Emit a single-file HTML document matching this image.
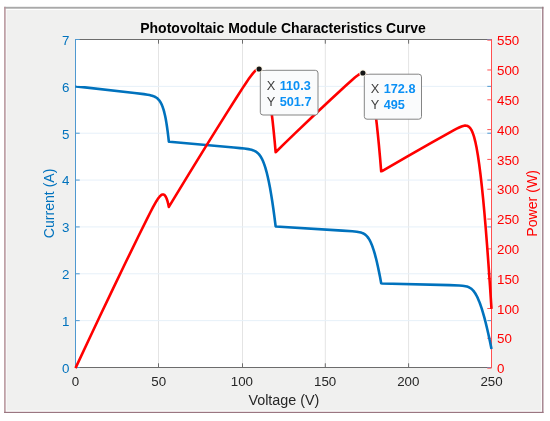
<!DOCTYPE html>
<html lang="en">
<head>
<meta charset="utf-8">
<title>Photovoltaic Module Characteristics Curve</title>
<style>
html,body{margin:0;padding:0;background:#fff;}
body{width:550px;height:421px;overflow:hidden;}
svg{display:block;font-family:"Liberation Sans",Arial,Helvetica,sans-serif;}
.tk{font-size:13.33px;}
.lb{font-size:14.1px;}
.tt{font-size:14px;font-weight:bold;}
.dt{font-size:12.8px;}
.dv{font-weight:bold;fill:#0a90f5;font-size:12.7px;}
</style>
</head>
<body>
<svg width="550" height="421" viewBox="0 0 550 421">
<rect x="0" y="0" width="550" height="421" fill="#ffffff"/>
<!-- figure window frame -->
<rect x="4.2" y="7" width="539.2" height="406" fill="#ffffff"/>
<rect x="6.5" y="10" width="534.7" height="400.6" fill="#f0f0ef"/>
<rect x="4.2" y="6.8" width="539.3" height="1.9" fill="#a9a9a9"/>
<rect x="4.1" y="6.8" width="1.6" height="406.2" fill="#b8989e"/>
<rect x="542.15" y="6.8" width="1.3" height="406.2" fill="#9a7681"/>
<rect x="4.1" y="411.8" width="539.4" height="1.2" fill="#9a7681"/>
<!-- axes background -->

<rect x="75.5" y="39.5" width="416.0" height="328.0" fill="#ffffff"/>
<g stroke="#e4e4e4" stroke-width="1">
<line x1="158.50" y1="39.5" x2="158.50" y2="367.5"/>
<line x1="242.50" y1="39.5" x2="242.50" y2="367.5"/>
<line x1="325.30" y1="39.5" x2="325.30" y2="367.5"/>
<line x1="408.60" y1="39.5" x2="408.60" y2="367.5"/>
</g>
<g stroke="#e6f0f9" stroke-width="1">
<line x1="75.5" y1="320.64" x2="491.5" y2="320.64"/>
<line x1="75.5" y1="273.79" x2="491.5" y2="273.79"/>
<line x1="75.5" y1="226.93" x2="491.5" y2="226.93"/>
<line x1="75.5" y1="180.07" x2="491.5" y2="180.07"/>
<line x1="75.5" y1="133.21" x2="491.5" y2="133.21"/>
<line x1="75.5" y1="86.36" x2="491.5" y2="86.36"/>
</g>
<g stroke-width="1" fill="none">
<path d="M75.5,39.5 H491.5" stroke="#6c6c6c"/>
<path d="M75.5,367.5 H491.5" stroke="#6c6c6c"/>
<path d="M75.50,367.5 v-4.2 M75.50,39.5 v4.2 M158.50,367.5 v-4.2 M158.50,39.5 v4.2 M242.50,367.5 v-4.2 M242.50,39.5 v4.2 M325.30,367.5 v-4.2 M325.30,39.5 v4.2 M408.60,367.5 v-4.2 M408.60,39.5 v4.2 M491.50,367.5 v-4.2 M491.50,39.5 v4.2 " stroke="#6c6c6c"/>
<path d="M75.5,367.50 h4.2 M491.5,367.50 h-4.2 M75.5,320.64 h4.2 M491.5,320.64 h-4.2 M75.5,273.79 h4.2 M491.5,273.79 h-4.2 M75.5,226.93 h4.2 M491.5,226.93 h-4.2 M75.5,180.07 h4.2 M491.5,180.07 h-4.2 M75.5,133.21 h4.2 M491.5,133.21 h-4.2 M75.5,86.36 h4.2 M491.5,86.36 h-4.2 M75.5,39.50 h4.2 M491.5,39.50 h-4.2 " stroke="#4f99d0"/>
<path d="M491.5,368.15 h-4.2 M491.5,338.33 h-4.2 M491.5,308.51 h-4.2 M491.5,278.70 h-4.2 M491.5,248.88 h-4.2 M491.5,219.06 h-4.2 M491.5,189.24 h-4.2 M491.5,159.42 h-4.2 M491.5,129.60 h-4.2 M491.5,99.79 h-4.2 M491.5,69.97 h-4.2 M491.5,40.15 h-4.2 " stroke="#ff5050"/>
<path d="M75.5,39.0 V368.0" stroke="#4f99d0"/>
<path d="M491.5,39.0 V368.0" stroke="#ff5050"/>
</g>
<g fill="none" stroke-linejoin="round" stroke-linecap="butt">
<path d="M75.50,86.25 L76.08,86.36 L134.50,92.99 L143.90,94.14 L147.67,94.71 L149.48,95.05 L150.97,95.40 L152.20,95.74 L153.53,96.20 L154.60,96.65 L155.68,97.23 L156.88,98.03 L158.07,99.06 L159.20,100.31 L160.17,101.69 L161.08,103.29 L161.94,105.12 L162.78,107.29 L163.55,109.69 L164.30,112.44 L165.03,115.53 L165.70,118.84 L166.36,122.62 L167.00,126.74 L167.64,131.31 L168.26,136.34 L168.85,141.72 L169.60,141.83 L233.89,147.55 L240.01,148.12 L244.33,148.58 L248.42,149.15 L250.19,149.50 L251.59,149.84 L252.72,150.18 L253.93,150.64 L254.91,151.10 L255.91,151.67 L256.75,152.24 L257.60,152.93 L258.32,153.61 L259.06,154.42 L259.79,155.33 L260.43,156.25 L261.07,157.27 L261.71,158.42 L262.96,161.05 L264.17,164.14 L265.35,167.68 L266.52,171.80 L267.68,176.49 L268.82,181.75 L269.96,187.58 L271.10,194.10 L272.24,201.20 L273.37,208.97 L274.50,217.32 L275.64,226.36 L275.88,226.47 L342.33,230.59 L352.36,231.28 L356.81,231.73 L359.49,232.19 L360.86,232.53 L361.92,232.88 L362.78,233.22 L363.71,233.68 L364.48,234.14 L365.13,234.59 L366.34,235.62 L367.49,236.88 L368.58,238.37 L369.67,240.20 L370.71,242.26 L371.74,244.66 L372.72,247.29 L373.75,250.38 L374.80,253.92 L375.84,257.81 L376.87,262.04 L377.93,266.73 L379.01,271.88 L380.09,277.37 L381.19,283.32 L382.03,283.43 L449.50,285.15 L459.16,285.49 L462.24,285.72 L464.11,285.95 L465.42,286.18 L466.83,286.52 L467.89,286.86 L468.98,287.32 L469.85,287.78 L470.58,288.24 L471.36,288.81 L472.03,289.38 L472.73,290.07 L473.45,290.87 L474.09,291.67 L475.34,293.50 L476.64,295.79 L477.91,298.42 L479.16,301.39 L480.44,304.82 L481.75,308.71 L483.08,313.06 L484.31,317.43 L485.61,322.42 L486.97,328.01 L488.41,334.31 L489.92,341.27 L491.50,348.89" stroke="#0072bd" stroke-width="2.6"/>
<path d="M75.50,367.50 L87.98,340.79 L100.46,314.36 L112.94,288.19 L125.48,262.16 L138.42,235.62 L147.67,216.92 L150.51,211.33 L152.90,206.75 L154.84,203.22 L156.40,200.54 L157.58,198.68 L158.72,197.07 L159.71,195.85 L160.65,194.91 L161.53,194.25 L162.35,193.88 L162.74,193.80 L163.13,193.79 L163.48,193.85 L163.85,193.98 L164.22,194.19 L164.56,194.46 L165.24,195.25 L165.89,196.31 L166.51,197.67 L167.12,199.34 L167.71,201.32 L168.28,203.62 L168.85,206.29 L188.65,173.66 L206.96,143.94 L216.94,127.92 L226.51,112.70 L236.08,97.61 L242.73,87.26 L246.16,82.05 L248.42,78.71 L250.70,75.53 L252.72,72.94 L254.44,71.01 L255.12,70.35 L255.91,69.68 L256.59,69.19 L257.33,68.77 L257.97,68.51 L258.54,68.38 L259.25,68.35 L259.87,68.47 L260.50,68.73 L261.14,69.17 L261.71,69.72 L262.28,70.43 L262.86,71.32 L263.44,72.38 L264.01,73.63 L264.53,74.96 L265.59,78.15 L266.64,82.07 L267.65,86.61 L268.68,92.03 L269.68,98.08 L270.69,105.04 L271.68,112.64 L272.67,121.02 L273.66,130.35 L274.65,140.49 L275.64,151.44 L275.88,151.35 L285.16,142.27 L294.73,132.98 L313.45,115.06 L330.51,99.03 L345.92,84.80 L352.36,79.03 L354.87,76.91 L356.81,75.38 L358.31,74.32 L359.99,73.32 L361.24,72.78 L361.92,72.58 L362.51,72.48 L363.27,72.45 L364.11,72.60 L364.82,72.89 L365.43,73.28 L366.10,73.88 L366.68,74.56 L367.30,75.47 L367.93,76.62 L368.50,77.86 L369.08,79.33 L369.67,81.07 L370.21,82.87 L371.31,87.23 L372.40,92.44 L373.49,98.73 L374.57,105.87 L375.66,114.10 L376.74,123.21 L377.83,133.43 L378.94,144.78 L380.07,157.27 L381.19,170.67 L382.03,170.40 L406.64,156.16 L431.60,141.95 L449.50,131.93 L453.47,129.76 L456.73,128.04 L459.16,126.85 L460.92,126.08 L462.24,125.60 L463.27,125.29 L464.11,125.10 L464.81,125.01 L465.42,124.97 L466.41,125.04 L466.83,125.12 L467.57,125.35 L468.19,125.65 L468.73,126.00 L469.65,126.82 L470.41,127.74 L471.21,128.98 L471.90,130.30 L472.62,131.96 L473.35,133.96 L474.00,136.02 L474.66,138.43 L475.34,141.19 L476.01,144.31 L476.64,147.47 L477.91,154.87 L479.20,163.72 L480.48,173.70 L481.82,185.50 L483.15,198.46 L484.40,211.98 L485.70,227.15 L487.08,244.67 L488.48,263.76 L489.97,285.10 L491.50,308.30" stroke="#ff0000" stroke-width="2.6" transform="translate(0,0.65)"/>
</g>
<g class="tk" fill="#262626" text-anchor="middle">
<text x="75.50" y="386.3">0</text>
<text x="158.70" y="386.3">50</text>
<text x="241.90" y="386.3">100</text>
<text x="325.10" y="386.3">150</text>
<text x="408.30" y="386.3">200</text>
<text x="491.50" y="386.3">250</text>
</g>
<g class="tk" fill="#0072bd" text-anchor="end">
<text x="69.4" y="372.90">0</text>
<text x="69.4" y="326.04">1</text>
<text x="69.4" y="279.19">2</text>
<text x="69.4" y="232.33">3</text>
<text x="69.4" y="185.47">4</text>
<text x="69.4" y="138.61">5</text>
<text x="69.4" y="91.76">6</text>
<text x="69.4" y="44.90">7</text>
</g>
<g class="tk" fill="#ff0000" text-anchor="start">
<text x="497.0" y="373.30">0</text>
<text x="497.0" y="343.48">50</text>
<text x="497.0" y="313.66">100</text>
<text x="497.0" y="283.85">150</text>
<text x="497.0" y="254.03">200</text>
<text x="497.0" y="224.21">250</text>
<text x="497.0" y="194.39">300</text>
<text x="497.0" y="164.57">350</text>
<text x="497.0" y="134.75">400</text>
<text x="497.0" y="104.94">450</text>
<text x="497.0" y="75.12">500</text>
<text x="497.0" y="45.30">550</text>
</g>
<text class="lb" style="font-size:14.35px" fill="#262626" text-anchor="middle" x="283.9" y="405">Voltage (V)</text>
<text class="lb" fill="#0072bd" text-anchor="middle" transform="translate(54.1,203.4) rotate(-90)">Current (A)</text>
<text class="lb" fill="#ff0000" text-anchor="middle" transform="translate(536.6,203.4) rotate(-90)">Power (W)</text>
<text class="tt" fill="#000000" text-anchor="middle" x="283.0" y="32.6">Photovoltaic Module Characteristics Curve</text>
<g class="dt">
<rect x="260.3" y="70.3" width="57.7" height="44.7" rx="2.7" ry="2.7" fill="#fafbfc" stroke="#858585" stroke-width="1"/>
<rect x="259.6" y="66.4" width="6" height="3.40" fill="#ffffff"/>
<circle cx="259.1" cy="69" r="3.6" fill="#fbf5e6"/>
<circle cx="259.1" cy="69" r="2.6" fill="#161616"/>
<text x="266.8" y="89.5" fill="#404040">X</text><text class="dv" x="279.7" y="89.5">110.3</text>
<text x="266.8" y="105.5" fill="#404040">Y</text><text class="dv" x="279.7" y="105.5">501.7</text>
</g>
<g class="dt">
<rect x="364.3" y="74.2" width="57.2" height="45" rx="2.7" ry="2.7" fill="#fafbfc" stroke="#858585" stroke-width="1"/>
<rect x="363.4" y="70.4" width="6" height="3.30" fill="#ffffff"/>
<circle cx="362.9" cy="73.0" r="3.6" fill="#fbf5e6"/>
<circle cx="362.9" cy="73.0" r="2.6" fill="#161616"/>
<text x="370.8" y="93.4" fill="#404040">X</text><text class="dv" x="383.7" y="93.4">172.8</text>
<text x="370.8" y="109.4" fill="#404040">Y</text><text class="dv" x="383.7" y="109.4">495</text>
</g>
</svg>
</body>
</html>
